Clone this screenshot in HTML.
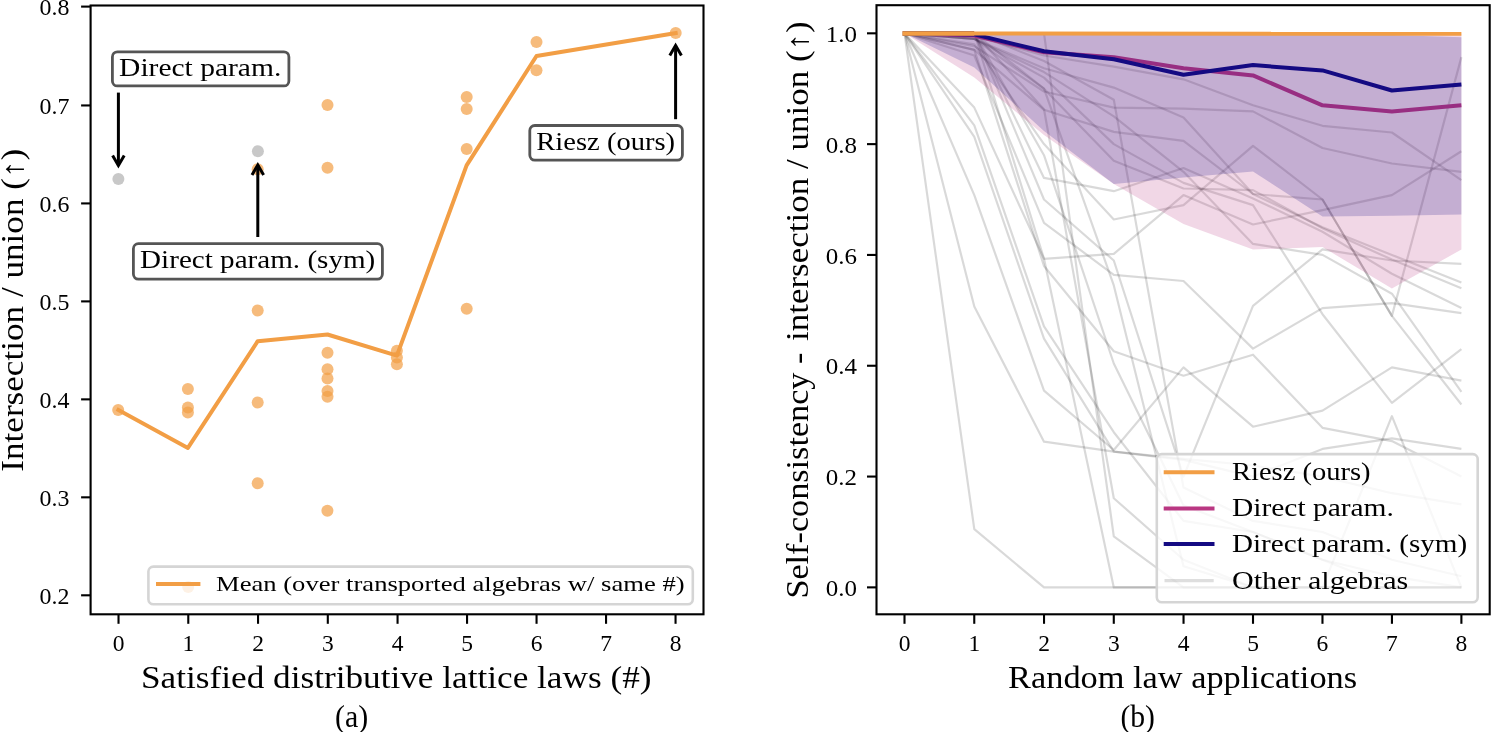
<!DOCTYPE html><html><head><meta charset="utf-8"><style>html,body{margin:0;padding:0;background:#fff;}svg{display:block;will-change:transform;}</style></head><body>
<svg width="1492" height="732" viewBox="0 0 1492 732">
<rect width="1492" height="732" fill="#fff"/>
<circle cx="118.4" cy="178.9" r="6.0" fill="#c8c8c8"/>
<circle cx="257.9" cy="151.3" r="6.0" fill="#c8c8c8"/>
<circle cx="118.2" cy="410.0" r="6.0" fill="#f29e45" fill-opacity="0.7"/>
<circle cx="187.9" cy="389.1" r="6.0" fill="#f29e45" fill-opacity="0.7"/>
<circle cx="187.9" cy="407.6" r="6.0" fill="#f29e45" fill-opacity="0.7"/>
<circle cx="187.9" cy="412.4" r="6.0" fill="#f29e45" fill-opacity="0.7"/>
<circle cx="188.2" cy="587.1" r="6.0" fill="#f29e45" fill-opacity="0.7"/>
<circle cx="257.7" cy="169.3" r="6.0" fill="#f29e45" fill-opacity="0.7"/>
<circle cx="257.7" cy="310.6" r="6.0" fill="#f29e45" fill-opacity="0.7"/>
<circle cx="257.7" cy="402.4" r="6.0" fill="#f29e45" fill-opacity="0.7"/>
<circle cx="257.7" cy="483.2" r="6.0" fill="#f29e45" fill-opacity="0.7"/>
<circle cx="327.5" cy="104.9" r="6.0" fill="#f29e45" fill-opacity="0.7"/>
<circle cx="327.5" cy="167.7" r="6.0" fill="#f29e45" fill-opacity="0.7"/>
<circle cx="327.5" cy="352.7" r="6.0" fill="#f29e45" fill-opacity="0.7"/>
<circle cx="327.5" cy="369.3" r="6.0" fill="#f29e45" fill-opacity="0.7"/>
<circle cx="327.5" cy="378.5" r="6.0" fill="#f29e45" fill-opacity="0.7"/>
<circle cx="327.5" cy="390.9" r="6.0" fill="#f29e45" fill-opacity="0.7"/>
<circle cx="327.5" cy="396.7" r="6.0" fill="#f29e45" fill-opacity="0.7"/>
<circle cx="327.4" cy="510.8" r="6.0" fill="#f29e45" fill-opacity="0.7"/>
<circle cx="396.9" cy="350.8" r="6.0" fill="#f29e45" fill-opacity="0.7"/>
<circle cx="396.9" cy="357.5" r="6.0" fill="#f29e45" fill-opacity="0.7"/>
<circle cx="396.9" cy="364.2" r="6.0" fill="#f29e45" fill-opacity="0.7"/>
<circle cx="466.7" cy="97.1" r="6.0" fill="#f29e45" fill-opacity="0.7"/>
<circle cx="466.7" cy="108.9" r="6.0" fill="#f29e45" fill-opacity="0.7"/>
<circle cx="466.7" cy="149.1" r="6.0" fill="#f29e45" fill-opacity="0.7"/>
<circle cx="466.7" cy="308.8" r="6.0" fill="#f29e45" fill-opacity="0.7"/>
<circle cx="536.5" cy="42.0" r="6.0" fill="#f29e45" fill-opacity="0.7"/>
<circle cx="536.5" cy="70.3" r="6.0" fill="#f29e45" fill-opacity="0.7"/>
<circle cx="675.7" cy="32.9" r="6.0" fill="#f29e45" fill-opacity="0.7"/>
<polyline points="118.4,410.0 187.9,447.9 257.7,341.2 327.5,334.5 396.9,355.6 466.6,165.4 536.5,56.0 675.7,33.0" fill="none" stroke="#f29e45" stroke-width="4" stroke-linejoin="round" stroke-linecap="square"/>
<line x1="118.4" y1="92.6" x2="118.4" y2="165.5" stroke="#000" stroke-width="3"/>
<polyline points="112.60000000000001,155.5 118.4,165.5 124.2,155.5" fill="none" stroke="#000" stroke-width="3" stroke-linejoin="miter" stroke-linecap="butt"/>
<line x1="257.8" y1="237.0" x2="257.8" y2="165.0" stroke="#000" stroke-width="3"/>
<polyline points="252.0,175.0 257.8,165.0 263.6,175.0" fill="none" stroke="#000" stroke-width="3" stroke-linejoin="miter" stroke-linecap="butt"/>
<line x1="675.6" y1="119.2" x2="675.6" y2="45.5" stroke="#000" stroke-width="3"/>
<polyline points="669.8000000000001,55.5 675.6,45.5 681.4,55.5" fill="none" stroke="#000" stroke-width="3" stroke-linejoin="miter" stroke-linecap="butt"/>
<rect x="112.4" y="51.9" width="176.49999999999997" height="34.00000000000001" rx="5" ry="5" fill="#fff" stroke="#555" stroke-width="2.8"/>
<rect x="133.4" y="243.7" width="248.99999999999997" height="35.400000000000034" rx="5" ry="5" fill="#fff" stroke="#555" stroke-width="2.8"/>
<rect x="529.8" y="125.5" width="152.60000000000002" height="34.599999999999994" rx="5" ry="5" fill="#fff" stroke="#555" stroke-width="2.8"/>
<text x="119.1" y="75.9" font-size="25.5" font-family="&quot;Liberation Serif&quot;, serif" text-anchor="start" textLength="162.2" lengthAdjust="spacingAndGlyphs" >Direct param.</text>
<text x="140.1" y="267.6" font-size="25.5" font-family="&quot;Liberation Serif&quot;, serif" text-anchor="start" textLength="235.2" lengthAdjust="spacingAndGlyphs" >Direct param. (sym)</text>
<text x="536.3" y="149.9" font-size="25.5" font-family="&quot;Liberation Serif&quot;, serif" text-anchor="start" textLength="138.8" lengthAdjust="spacingAndGlyphs" >Riesz (ours)</text>
<rect x="148.4" y="566.6" width="544.4" height="37.60000000000002" rx="5" ry="5" fill="#fff" fill-opacity="0.8" stroke="#d5d5d5" stroke-width="2.6"/>
<line x1="156" y1="584.1" x2="200.4" y2="584.1" stroke="#f29e45" stroke-width="4"/>
<text x="216" y="591" font-size="21.8" font-family="&quot;Liberation Serif&quot;, serif" text-anchor="start" textLength="468.6" lengthAdjust="spacingAndGlyphs" >Mean (over transported algebras w/ same #)</text>
<rect x="90.6" y="5.5" width="612.9" height="608.8" fill="none" stroke="#000" stroke-width="2.1"/>
<line x1="118.52" y1="614.3" x2="118.52" y2="623.8" stroke="#000" stroke-width="2.1"/>
<text x="118.52" y="650.8" font-size="23.5" font-family="&quot;Liberation Serif&quot;, serif" text-anchor="middle" >0</text>
<line x1="188.28" y1="614.3" x2="188.28" y2="623.8" stroke="#000" stroke-width="2.1"/>
<text x="188.28" y="650.8" font-size="23.5" font-family="&quot;Liberation Serif&quot;, serif" text-anchor="middle" >1</text>
<line x1="258.04" y1="614.3" x2="258.04" y2="623.8" stroke="#000" stroke-width="2.1"/>
<text x="258.04" y="650.8" font-size="23.5" font-family="&quot;Liberation Serif&quot;, serif" text-anchor="middle" >2</text>
<line x1="327.8" y1="614.3" x2="327.8" y2="623.8" stroke="#000" stroke-width="2.1"/>
<text x="327.8" y="650.8" font-size="23.5" font-family="&quot;Liberation Serif&quot;, serif" text-anchor="middle" >3</text>
<line x1="397.56" y1="614.3" x2="397.56" y2="623.8" stroke="#000" stroke-width="2.1"/>
<text x="397.56" y="650.8" font-size="23.5" font-family="&quot;Liberation Serif&quot;, serif" text-anchor="middle" >4</text>
<line x1="467.05" y1="614.3" x2="467.05" y2="623.8" stroke="#000" stroke-width="2.1"/>
<text x="467.05" y="650.8" font-size="23.5" font-family="&quot;Liberation Serif&quot;, serif" text-anchor="middle" >5</text>
<line x1="536.55" y1="614.3" x2="536.55" y2="623.8" stroke="#000" stroke-width="2.1"/>
<text x="536.55" y="650.8" font-size="23.5" font-family="&quot;Liberation Serif&quot;, serif" text-anchor="middle" >6</text>
<line x1="606.05" y1="614.3" x2="606.05" y2="623.8" stroke="#000" stroke-width="2.1"/>
<text x="606.05" y="650.8" font-size="23.5" font-family="&quot;Liberation Serif&quot;, serif" text-anchor="middle" >7</text>
<line x1="675.55" y1="614.3" x2="675.55" y2="623.8" stroke="#000" stroke-width="2.1"/>
<text x="675.55" y="650.8" font-size="23.5" font-family="&quot;Liberation Serif&quot;, serif" text-anchor="middle" >8</text>
<line x1="81.1" y1="595.3" x2="90.6" y2="595.3" stroke="#000" stroke-width="2.1"/>
<text x="69.5" y="604.0" font-size="23.5" font-family="&quot;Liberation Serif&quot;, serif" text-anchor="end" textLength="29.9" lengthAdjust="spacingAndGlyphs" >0.2</text>
<line x1="81.1" y1="497.33" x2="90.6" y2="497.33" stroke="#000" stroke-width="2.1"/>
<text x="69.5" y="506.03" font-size="23.5" font-family="&quot;Liberation Serif&quot;, serif" text-anchor="end" textLength="29.9" lengthAdjust="spacingAndGlyphs" >0.3</text>
<line x1="81.1" y1="399.3599999999999" x2="90.6" y2="399.3599999999999" stroke="#000" stroke-width="2.1"/>
<text x="69.5" y="408.0599999999999" font-size="23.5" font-family="&quot;Liberation Serif&quot;, serif" text-anchor="end" textLength="29.9" lengthAdjust="spacingAndGlyphs" >0.4</text>
<line x1="81.1" y1="301.38999999999993" x2="90.6" y2="301.38999999999993" stroke="#000" stroke-width="2.1"/>
<text x="69.5" y="310.0899999999999" font-size="23.5" font-family="&quot;Liberation Serif&quot;, serif" text-anchor="end" textLength="29.9" lengthAdjust="spacingAndGlyphs" >0.5</text>
<line x1="81.1" y1="203.41999999999996" x2="90.6" y2="203.41999999999996" stroke="#000" stroke-width="2.1"/>
<text x="69.5" y="212.11999999999995" font-size="23.5" font-family="&quot;Liberation Serif&quot;, serif" text-anchor="end" textLength="29.9" lengthAdjust="spacingAndGlyphs" >0.6</text>
<line x1="81.1" y1="105.44999999999999" x2="90.6" y2="105.44999999999999" stroke="#000" stroke-width="2.1"/>
<text x="69.5" y="114.14999999999999" font-size="23.5" font-family="&quot;Liberation Serif&quot;, serif" text-anchor="end" textLength="29.9" lengthAdjust="spacingAndGlyphs" >0.7</text>
<line x1="81.1" y1="6.6" x2="90.6" y2="6.6" stroke="#000" stroke-width="2.1"/>
<text x="69.5" y="15.299999999999999" font-size="23.5" font-family="&quot;Liberation Serif&quot;, serif" text-anchor="end" textLength="29.9" lengthAdjust="spacingAndGlyphs" >0.8</text>
<text x="141.0" y="687.9" font-size="30.5" font-family="&quot;Liberation Serif&quot;, serif" text-anchor="start" textLength="510.5" lengthAdjust="spacingAndGlyphs" >Satisfied distributive lattice laws (#)</text>
<text x="335.1" y="726.9" font-size="30.5" font-family="&quot;Liberation Serif&quot;, serif" text-anchor="start" textLength="33.2" lengthAdjust="spacingAndGlyphs" >(a)</text>
<g transform="translate(22.6,471.7) rotate(-90)">
<text x="0" y="0" font-size="30.5" font-family="&quot;Liberation Serif&quot;, serif" text-anchor="start" textLength="322.9" lengthAdjust="spacingAndGlyphs" >Intersection / union (↑)</text>
</g>
<polyline points="904.5,33.3 974.3,529.2 1044.0,587.4 1113.8,587.4 1183.5,587.4 1253.0,587.4 1322.5,587.4 1391.9,587.4 1461.4,587.4" fill="none" stroke="#000" stroke-opacity="0.15" stroke-width="2.2" stroke-linejoin="round"/>
<polyline points="904.5,33.3 974.3,306.5 1044.0,441.7 1113.8,451.6 1183.5,458.8 1253.0,465.5 1322.5,476.6 1391.9,493.2 1461.4,504.3" fill="none" stroke="#000" stroke-opacity="0.15" stroke-width="2.2" stroke-linejoin="round"/>
<polyline points="904.5,33.3 974.3,195.1 1044.0,390.7 1113.8,450.0 1183.5,367.4 1253.0,426.7 1322.5,410.6 1391.9,367.4 1461.4,380.7" fill="none" stroke="#000" stroke-opacity="0.15" stroke-width="2.2" stroke-linejoin="round"/>
<polyline points="904.5,33.3 974.3,136.9 1044.0,338.6 1113.8,451.6 1183.5,459.9 1253.0,476.6 1322.5,448.9 1391.9,438.3 1461.4,448.9" fill="none" stroke="#000" stroke-opacity="0.15" stroke-width="2.2" stroke-linejoin="round"/>
<polyline points="904.5,33.3 974.3,125.3 1044.0,326.4 1113.8,432.2 1183.5,520.9 1253.0,532.0 1322.5,559.7 1391.9,576.3 1461.4,587.4" fill="none" stroke="#000" stroke-opacity="0.15" stroke-width="2.2" stroke-linejoin="round"/>
<polyline points="904.5,33.3 974.3,33.3 1044.0,258.8 1113.8,253.8 1183.5,195.1 1253.0,224.5 1322.5,210.1 1391.9,195.1 1461.4,151.3" fill="none" stroke="#000" stroke-opacity="0.15" stroke-width="2.2" stroke-linejoin="round"/>
<polyline points="904.5,33.3 974.3,107.6 1044.0,258.8 1113.8,587.4 1183.5,587.4 1253.0,587.4 1322.5,587.4 1391.9,587.4 1461.4,587.4" fill="none" stroke="#000" stroke-opacity="0.15" stroke-width="2.2" stroke-linejoin="round"/>
<polyline points="904.5,33.3 974.3,55.5 1044.0,222.8 1113.8,274.9 1183.5,281.0 1253.0,348.6 1322.5,308.1 1391.9,303.1 1461.4,313.1" fill="none" stroke="#000" stroke-opacity="0.15" stroke-width="2.2" stroke-linejoin="round"/>
<polyline points="904.5,33.3 974.3,33.3 1044.0,177.9 1113.8,191.2 1183.5,168.0 1253.0,198.4 1322.5,231.7 1391.9,273.8 1461.4,308.1" fill="none" stroke="#000" stroke-opacity="0.15" stroke-width="2.2" stroke-linejoin="round"/>
<polyline points="904.5,33.3 974.3,33.3 1044.0,109.2 1113.8,498.2 1183.5,559.7 1253.0,587.4 1322.5,587.4 1391.9,416.2 1461.4,587.4" fill="none" stroke="#000" stroke-opacity="0.15" stroke-width="2.2" stroke-linejoin="round"/>
<polyline points="904.5,33.3 974.3,33.3 1044.0,33.3 1113.8,536.4 1183.5,587.4 1253.0,587.4 1322.5,587.4 1391.9,587.4 1461.4,587.4" fill="none" stroke="#000" stroke-opacity="0.15" stroke-width="2.2" stroke-linejoin="round"/>
<polyline points="904.5,33.3 974.3,46.1 1044.0,91.5 1113.8,107.6 1183.5,108.7 1253.0,111.4 1322.5,148.0 1391.9,163.5 1461.4,171.8" fill="none" stroke="#000" stroke-opacity="0.15" stroke-width="2.2" stroke-linejoin="round"/>
<polyline points="904.5,33.3 974.3,49.9 1044.0,109.8 1113.8,131.9 1183.5,140.8 1253.0,194.0 1322.5,227.2 1391.9,254.9 1461.4,282.6" fill="none" stroke="#000" stroke-opacity="0.15" stroke-width="2.2" stroke-linejoin="round"/>
<polyline points="904.5,33.3 974.3,38.9 1044.0,68.2 1113.8,87.6 1183.5,117.5 1253.0,194.0 1322.5,199.5 1391.9,315.9 1461.4,404.5" fill="none" stroke="#000" stroke-opacity="0.15" stroke-width="2.2" stroke-linejoin="round"/>
<polyline points="904.5,33.3 974.3,36.1 1044.0,55.5 1113.8,66.6 1183.5,79.3 1253.0,105.3 1322.5,125.8 1391.9,132.5 1461.4,180.1" fill="none" stroke="#000" stroke-opacity="0.15" stroke-width="2.2" stroke-linejoin="round"/>
<polyline points="904.5,33.3 974.3,44.4 1044.0,144.1 1113.8,219.5 1183.5,205.1 1253.0,145.8 1322.5,199.5 1391.9,315.9 1461.4,57.1" fill="none" stroke="#000" stroke-opacity="0.15" stroke-width="2.2" stroke-linejoin="round"/>
<polyline points="904.5,33.3 974.3,38.9 1044.0,88.7 1113.8,160.8 1183.5,188.5 1253.0,190.1 1322.5,228.3 1391.9,259.6 1461.4,288.2" fill="none" stroke="#000" stroke-opacity="0.15" stroke-width="2.2" stroke-linejoin="round"/>
<polyline points="904.5,33.3 974.3,33.3 1044.0,199.5 1113.8,260.5 1183.5,476.6 1253.0,305.9 1322.5,249.4 1391.9,260.5 1461.4,263.8" fill="none" stroke="#000" stroke-opacity="0.15" stroke-width="2.2" stroke-linejoin="round"/>
<polyline points="904.5,33.3 974.3,49.9 1044.0,266.0 1113.8,351.3 1183.5,375.7 1253.0,354.7 1322.5,427.8 1391.9,441.1 1461.4,476.6" fill="none" stroke="#000" stroke-opacity="0.15" stroke-width="2.2" stroke-linejoin="round"/>
<polyline points="904.5,33.3 974.3,33.3 1044.0,155.2 1113.8,363.5 1183.5,505.4 1253.0,532.0 1322.5,559.7 1391.9,587.4 1461.4,587.4" fill="none" stroke="#000" stroke-opacity="0.15" stroke-width="2.2" stroke-linejoin="round"/>
<polyline points="904.5,33.3 974.3,33.3 1044.0,88.7 1113.8,285.4 1183.5,566.3 1253.0,587.4 1322.5,587.4 1391.9,587.4 1461.4,587.4" fill="none" stroke="#000" stroke-opacity="0.15" stroke-width="2.2" stroke-linejoin="round"/>
<polyline points="904.5,33.3 974.3,33.3 1044.0,61.0 1113.8,99.8 1183.5,487.6 1253.0,520.9 1322.5,532.0 1391.9,559.7 1461.4,576.3" fill="none" stroke="#000" stroke-opacity="0.15" stroke-width="2.2" stroke-linejoin="round"/>
<polyline points="904.5,33.3 974.3,38.9 1044.0,77.6 1113.8,144.1 1183.5,182.9 1253.0,205.1 1322.5,314.2 1391.9,402.9 1461.4,349.1" fill="none" stroke="#000" stroke-opacity="0.15" stroke-width="2.2" stroke-linejoin="round"/>
<polyline points="904.5,33.3 974.3,38.9 1044.0,72.1 1113.8,116.4 1183.5,171.8 1253.0,243.9 1322.5,254.9 1391.9,293.7 1461.4,391.8" fill="none" stroke="#000" stroke-opacity="0.15" stroke-width="2.2" stroke-linejoin="round"/>
<polygon points="904.5,33.3 974.3,77.5 1044.0,135 1113.8,184.1 1183.5,224 1253.0,249.5 1322.5,247 1391.9,288.5 1461.4,249.5 1461.4,33.5 904.5,33.3" fill="#b93782" fill-opacity="0.2"/>
<polyline points="904.5,33.3 974.3,35.6 1044.0,52.2 1113.8,57.2 1183.5,68.3 1253.0,75.4 1322.5,105.3 1391.9,111.4 1461.4,105.3" fill="none" stroke="#b93782" stroke-width="4" stroke-linejoin="round"/>
<polygon points="904.5,33.3 974.3,67.5 1044.0,131 1113.8,184.1 1183.5,177.5 1253.0,171.5 1322.5,216.5 1391.9,215.8 1461.4,214.6 1461.4,37.2 1391.9,35.0 1322.5,33.6 904.5,33.3" fill="#140a82" fill-opacity="0.2"/>
<polyline points="904.5,33.3 974.3,34.4 1044.0,51.2 1113.8,59.2 1183.5,74.7 1253.0,65.1 1322.5,70.4 1391.9,90.5 1461.4,84.4" fill="none" stroke="#140a82" stroke-width="4" stroke-linejoin="round"/>
<line x1="902.5" y1="33.5" x2="974.26" y2="33.5" stroke="#a86a55" stroke-width="5"/>
<line x1="902.5" y1="33.5" x2="1461.3899999999999" y2="33.7" stroke="#f29e45" stroke-width="4"/>
<rect x="1156.8" y="454.1" width="320.9000000000001" height="148.10000000000002" rx="5" ry="5" fill="#fff" fill-opacity="0.8" stroke="#d5d5d5" stroke-width="2.6"/>
<line x1="1163.7" y1="472.3" x2="1214.5" y2="472.3" stroke="#f29e45" stroke-width="4"/>
<line x1="1163.7" y1="508.4" x2="1214.5" y2="508.4" stroke="#b93782" stroke-width="4"/>
<line x1="1163.7" y1="544.1" x2="1214.5" y2="544.1" stroke="#140a82" stroke-width="4"/>
<line x1="1164.5" y1="580.6" x2="1213.7" y2="580.6" stroke="#000" stroke-opacity="0.13" stroke-width="3.4"/>
<text x="1232" y="480.4" font-size="25.5" font-family="&quot;Liberation Serif&quot;, serif" text-anchor="start" textLength="138.6" lengthAdjust="spacingAndGlyphs" >Riesz (ours)</text>
<text x="1232" y="516.4" font-size="25.5" font-family="&quot;Liberation Serif&quot;, serif" text-anchor="start" textLength="161.9" lengthAdjust="spacingAndGlyphs" >Direct param.</text>
<text x="1232" y="552.2" font-size="25.5" font-family="&quot;Liberation Serif&quot;, serif" text-anchor="start" textLength="235.2" lengthAdjust="spacingAndGlyphs" >Direct param. (sym)</text>
<text x="1232" y="588.6" font-size="25.5" font-family="&quot;Liberation Serif&quot;, serif" text-anchor="start" textLength="176.2" lengthAdjust="spacingAndGlyphs" >Other algebras</text>
<rect x="876.5" y="5.2" width="613.2" height="609.0999999999999" fill="none" stroke="#000" stroke-width="2.1"/>
<line x1="904.5" y1="614.3" x2="904.5" y2="623.8" stroke="#000" stroke-width="2.1"/>
<text x="904.5" y="650.8" font-size="23.5" font-family="&quot;Liberation Serif&quot;, serif" text-anchor="middle" >0</text>
<line x1="974.26" y1="614.3" x2="974.26" y2="623.8" stroke="#000" stroke-width="2.1"/>
<text x="974.26" y="650.8" font-size="23.5" font-family="&quot;Liberation Serif&quot;, serif" text-anchor="middle" >1</text>
<line x1="1044.02" y1="614.3" x2="1044.02" y2="623.8" stroke="#000" stroke-width="2.1"/>
<text x="1044.02" y="650.8" font-size="23.5" font-family="&quot;Liberation Serif&quot;, serif" text-anchor="middle" >2</text>
<line x1="1113.78" y1="614.3" x2="1113.78" y2="623.8" stroke="#000" stroke-width="2.1"/>
<text x="1113.78" y="650.8" font-size="23.5" font-family="&quot;Liberation Serif&quot;, serif" text-anchor="middle" >3</text>
<line x1="1183.54" y1="614.3" x2="1183.54" y2="623.8" stroke="#000" stroke-width="2.1"/>
<text x="1183.54" y="650.8" font-size="23.5" font-family="&quot;Liberation Serif&quot;, serif" text-anchor="middle" >4</text>
<line x1="1253.01" y1="614.3" x2="1253.01" y2="623.8" stroke="#000" stroke-width="2.1"/>
<text x="1253.01" y="650.8" font-size="23.5" font-family="&quot;Liberation Serif&quot;, serif" text-anchor="middle" >5</text>
<line x1="1322.47" y1="614.3" x2="1322.47" y2="623.8" stroke="#000" stroke-width="2.1"/>
<text x="1322.47" y="650.8" font-size="23.5" font-family="&quot;Liberation Serif&quot;, serif" text-anchor="middle" >6</text>
<line x1="1391.9299999999998" y1="614.3" x2="1391.9299999999998" y2="623.8" stroke="#000" stroke-width="2.1"/>
<text x="1391.9299999999998" y="650.8" font-size="23.5" font-family="&quot;Liberation Serif&quot;, serif" text-anchor="middle" >7</text>
<line x1="1461.3899999999999" y1="614.3" x2="1461.3899999999999" y2="623.8" stroke="#000" stroke-width="2.1"/>
<text x="1461.3899999999999" y="650.8" font-size="23.5" font-family="&quot;Liberation Serif&quot;, serif" text-anchor="middle" >8</text>
<line x1="867.0" y1="587.37" x2="876.5" y2="587.37" stroke="#000" stroke-width="2.1"/>
<text x="856.9" y="596.07" font-size="23.5" font-family="&quot;Liberation Serif&quot;, serif" text-anchor="end" textLength="31.2" lengthAdjust="spacingAndGlyphs" >0.0</text>
<line x1="867.0" y1="476.56" x2="876.5" y2="476.56" stroke="#000" stroke-width="2.1"/>
<text x="856.9" y="485.26" font-size="23.5" font-family="&quot;Liberation Serif&quot;, serif" text-anchor="end" textLength="31.2" lengthAdjust="spacingAndGlyphs" >0.2</text>
<line x1="867.0" y1="365.75" x2="876.5" y2="365.75" stroke="#000" stroke-width="2.1"/>
<text x="856.9" y="374.45" font-size="23.5" font-family="&quot;Liberation Serif&quot;, serif" text-anchor="end" textLength="31.2" lengthAdjust="spacingAndGlyphs" >0.4</text>
<line x1="867.0" y1="254.94000000000005" x2="876.5" y2="254.94000000000005" stroke="#000" stroke-width="2.1"/>
<text x="856.9" y="263.64000000000004" font-size="23.5" font-family="&quot;Liberation Serif&quot;, serif" text-anchor="end" textLength="31.2" lengthAdjust="spacingAndGlyphs" >0.6</text>
<line x1="867.0" y1="144.13" x2="876.5" y2="144.13" stroke="#000" stroke-width="2.1"/>
<text x="856.9" y="152.82999999999998" font-size="23.5" font-family="&quot;Liberation Serif&quot;, serif" text-anchor="end" textLength="31.2" lengthAdjust="spacingAndGlyphs" >0.8</text>
<line x1="867.0" y1="33.32000000000005" x2="876.5" y2="33.32000000000005" stroke="#000" stroke-width="2.1"/>
<text x="856.9" y="42.02000000000005" font-size="23.5" font-family="&quot;Liberation Serif&quot;, serif" text-anchor="end" textLength="31.2" lengthAdjust="spacingAndGlyphs" >1.0</text>
<text x="1008.1" y="687.8" font-size="30.5" font-family="&quot;Liberation Serif&quot;, serif" text-anchor="start" textLength="349.0" lengthAdjust="spacingAndGlyphs" >Random law applications</text>
<text x="1120.4" y="726.9" font-size="30.5" font-family="&quot;Liberation Serif&quot;, serif" text-anchor="start" textLength="34.6" lengthAdjust="spacingAndGlyphs" >(b)</text>
<g transform="translate(808,598.6) rotate(-90)">
<text x="0" y="0" font-size="30.5" font-family="&quot;Liberation Serif&quot;, serif" text-anchor="start" textLength="246" lengthAdjust="spacingAndGlyphs" >Self-consistency -</text>
<text x="257.6" y="0" font-size="30.5" font-family="&quot;Liberation Serif&quot;, serif" text-anchor="start" textLength="319.7" lengthAdjust="spacingAndGlyphs" >intersection / union (↑)</text>
</g>
</svg></body></html>
